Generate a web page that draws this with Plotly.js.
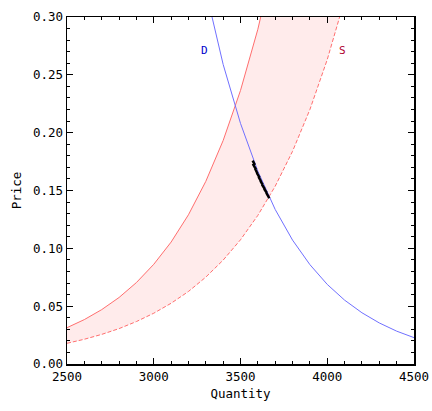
<!DOCTYPE html>
<html>
<head>
<meta charset="utf-8">
<script src="https://cdn.plot.ly/plotly-3.0.1.min.js"></script>
<style>html,body{margin:0;padding:0;background:#fff;}#chart{width:432px;height:411px;}</style>
</head>
<body>
<div id="chart"></div>
<script>
// Supply, upper (solid) curve
var supplyHighQ = [2500, 2600, 2700, 2800, 2900, 3000, 3100, 3200, 3300, 3400, 3500, 3600, 3700];
var supplyHighP = [0.0314, 0.0384, 0.0470, 0.0575, 0.0704, 0.0862, 0.1054, 0.1290, 0.1579, 0.1932, 0.2365, 0.2894, 0.354];
// Supply, lower (dashed) curve
var supplyLowQ = [2500, 2600, 2700, 2800, 2900, 3000, 3100, 3200, 3300, 3400, 3500, 3600, 3700, 3800, 3900, 4000, 4100];
var supplyLowP = [0.0179, 0.0214, 0.0256, 0.0306, 0.0367, 0.0439, 0.0525, 0.0627, 0.0751, 0.0898, 0.1074, 0.1285, 0.1537, 0.1839, 0.2200, 0.2632, 0.3148];
// Demand curve
var demandQ = [3300, 3400, 3500, 3600, 3700, 3800, 3900, 4000, 4100, 4200, 4300, 4400, 4500];
var demandP = [0.323, 0.259, 0.208, 0.1667, 0.1336, 0.1071, 0.0859, 0.0688, 0.0552, 0.0443, 0.0355, 0.0284, 0.0228];
// Equilibrium cluster
var eqQ = [3570, 3580, 3574, 3590, 3584, 3598, 3594, 3610, 3604, 3618, 3614, 3628, 3624, 3640, 3636, 3652, 3648, 3666];
var eqP = [0.1758, 0.1730, 0.1722, 0.1680, 0.1690, 0.1645, 0.1652, 0.1612, 0.1618, 0.1580, 0.1585, 0.1548, 0.1552, 0.1512, 0.1515, 0.1478, 0.1482, 0.1433];
// Curve labels
var labelText = ["D", "S"];
var labelQ = [3295, 4090];
var labelP = [0.271, 0.271];

var mono = "DejaVu Sans Mono, monospace";

var fillQ = supplyLowQ.concat(supplyHighQ.slice().reverse());
var fillP = supplyLowP.concat(supplyHighP.slice().reverse());

var traces = [
  {x: fillQ, y: fillP, type: "scatter", mode: "lines", fill: "toself",
   fillcolor: "rgba(255,120,120,0.15)", line: {width: 0}, hoverinfo: "skip"},
  {x: supplyLowQ, y: supplyLowP, type: "scatter", mode: "lines",
   line: {color: "#ff6e6e", width: 1, dash: "4px,2px"}},
  {x: supplyHighQ, y: supplyHighP, type: "scatter", mode: "lines",
   line: {color: "#ff6e6e", width: 1}},
  {x: demandQ, y: demandP, type: "scatter", mode: "lines",
   line: {color: "#7070ff", width: 1}},
  {x: eqQ, y: eqP, type: "scatter", mode: "lines",
   line: {color: "#000000", width: 2.5}}
];

var annotations = labelText.map(function (t, i) {
  return {x: labelQ[i], y: labelP[i], text: t, showarrow: false,
    font: {family: mono, size: 11, color: i === 0 ? "#0000cc" : "#b00030"}};
});

var axisCommon = {
  showline: true, linecolor: "#000", linewidth: 1.5, mirror: "ticks",
  ticks: "inside", ticklen: 6, tickwidth: 1, tickcolor: "#000",
  showgrid: false, zeroline: false,
  tickfont: {family: mono, size: 12.5, color: "#000"}
};

var layout = {
  width: 432, height: 411,
  margin: {l: 67, r: 18, t: 17, b: 47},
  paper_bgcolor: "#fff", plot_bgcolor: "#fff",
  showlegend: false,
  xaxis: Object.assign({}, axisCommon, {
    range: [2500, 4500], tickvals: [2500, 3000, 3500, 4000, 4500],
    minor: {ticks: "inside", dtick: 100, ticklen: 3, tickcolor: "#000"},
    title: {text: "Quantity", font: {family: mono, size: 12.5, color: "#000"}, standoff: 6}
  }),
  yaxis: Object.assign({}, axisCommon, {
    range: [0, 0.30], tickvals: [0, 0.05, 0.10, 0.15, 0.20, 0.25, 0.30], tickformat: ".2f",
    minor: {ticks: "inside", dtick: 0.01, ticklen: 3, tickcolor: "#000"},
    title: {text: "Price", font: {family: mono, size: 12.5, color: "#000"}, standoff: 8}
  }),
  annotations: annotations
};

Plotly.newPlot("chart", traces, layout, {displayModeBar: false, staticPlot: true});
</script>
</body>
</html>
